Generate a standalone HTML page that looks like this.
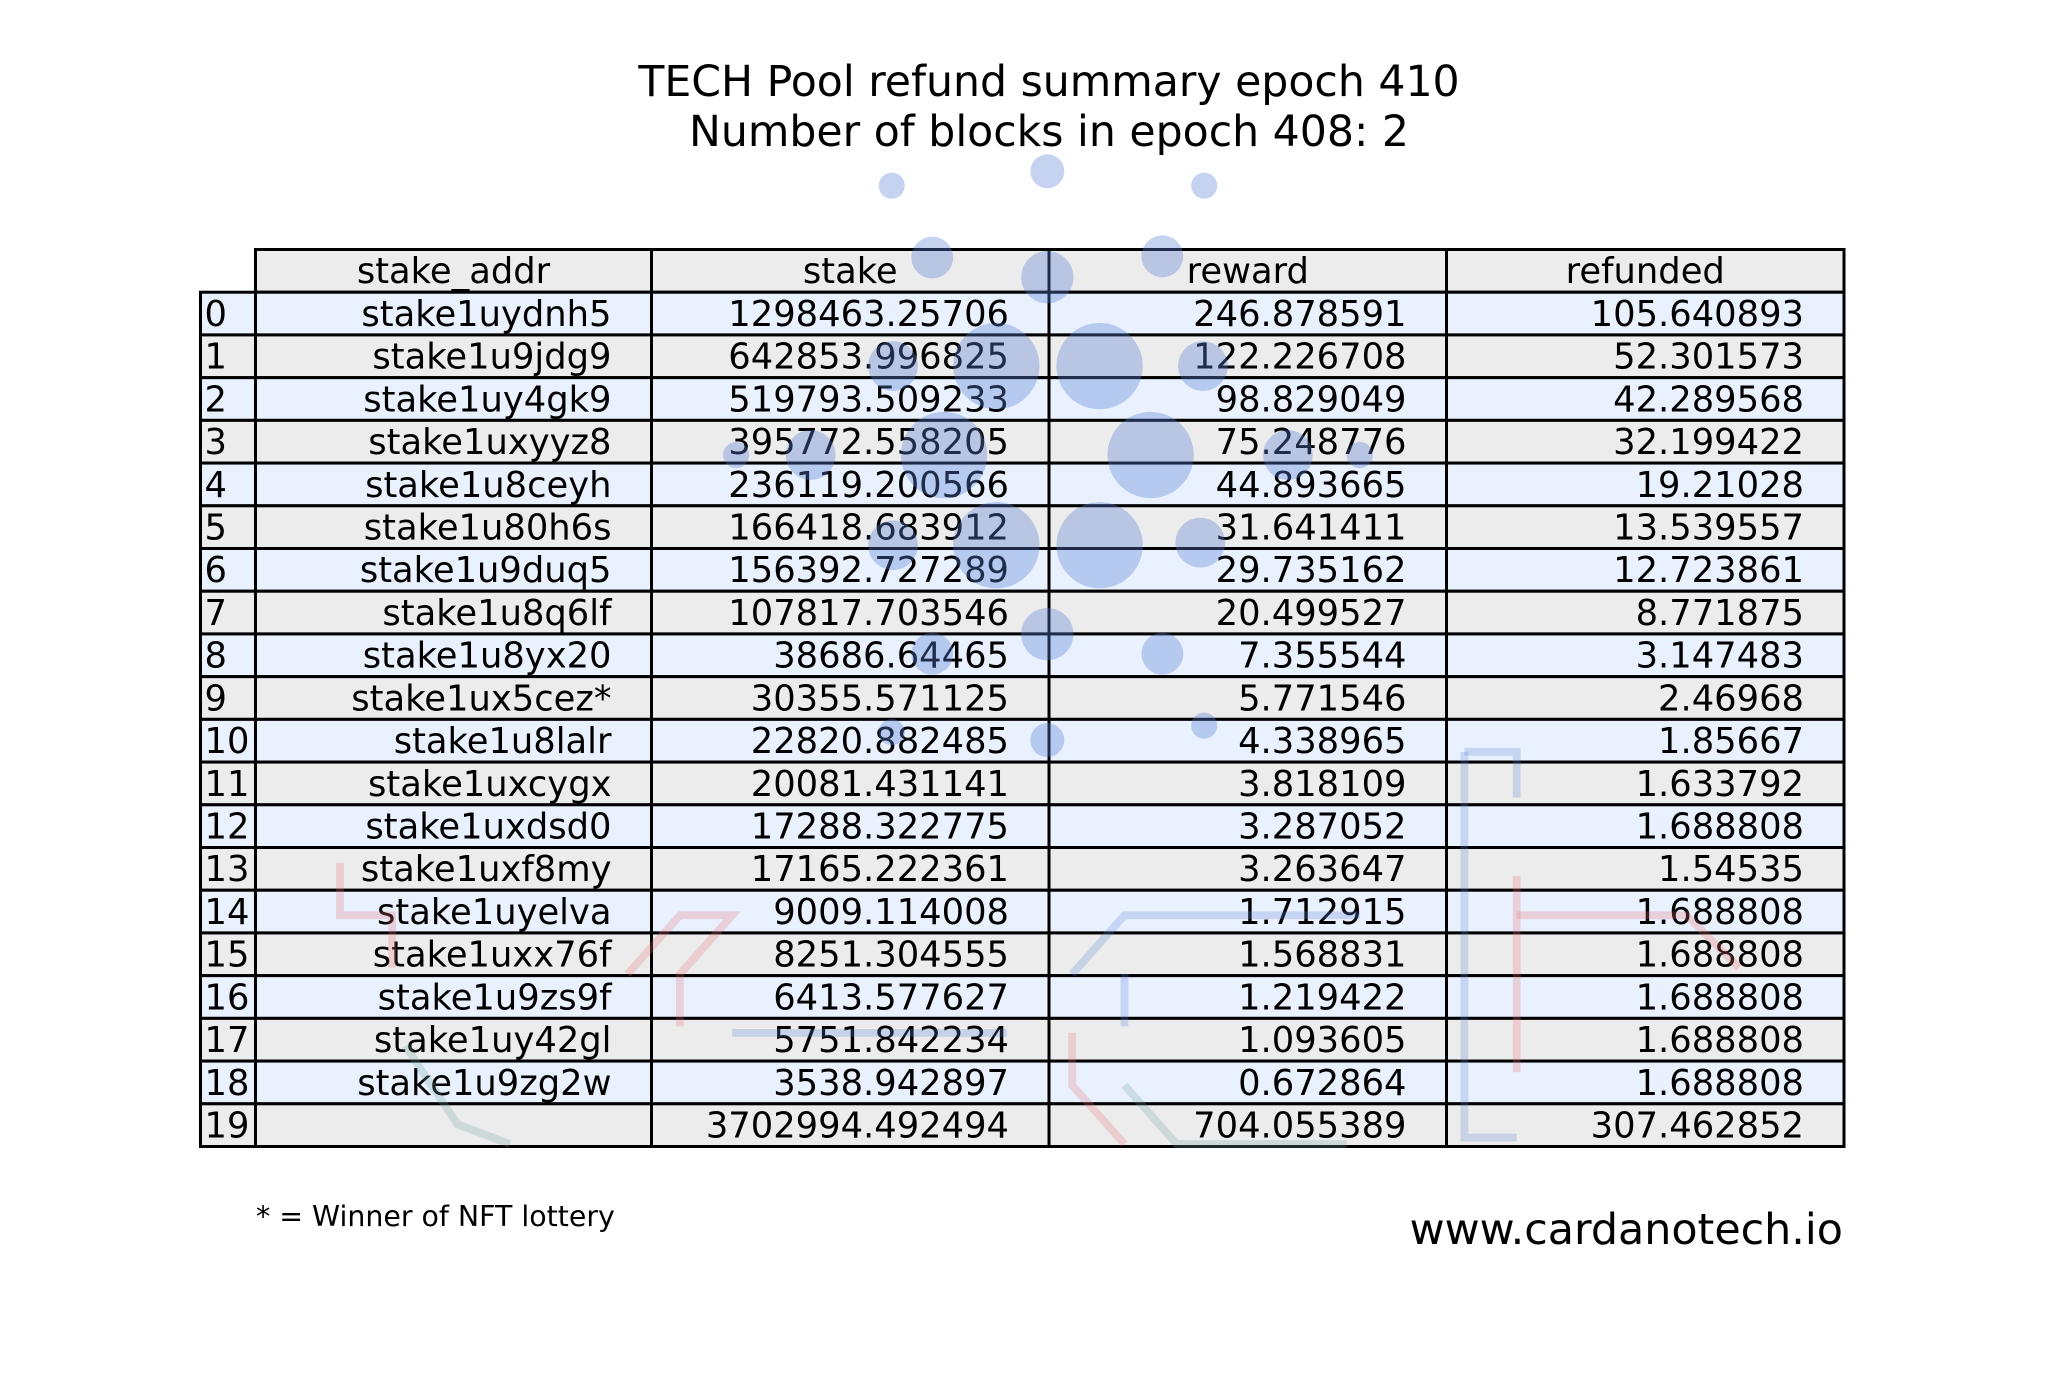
<!DOCTYPE html>
<html><head><meta charset="utf-8"><style>
body{margin:0;background:#fff}
svg{display:block}
text{font-family:"DejaVu Sans","Liberation Sans",sans-serif}
</style></head><body>
<svg id="s" width="2048" height="1382" viewBox="0 0 2048 1382">
<rect width="2048" height="1382" fill="#fff"/>
<text x="1049" y="96" font-size="42.6" text-anchor="middle">TECH Pool refund summary epoch 410</text>
<text x="1049" y="146" font-size="42.6" text-anchor="middle">Number of blocks in epoch 408: 2</text>
<g id="tbl"></g>
<g id="wm" fill="rgb(90,130,215)" fill-opacity="0.35"></g>
<text x="256" y="1226" font-size="28.4">* = Winner of NFT lottery</text>
<text x="1843" y="1244" font-size="42.8" text-anchor="end">www.cardanotech.io</text>
</svg>
<script>
const headers=["stake_addr","stake","reward","refunded"];
const addrs=["stake1uydnh5","stake1u9jdg9","stake1uy4gk9","stake1uxyyz8","stake1u8ceyh","stake1u80h6s","stake1u9duq5","stake1u8q6lf","stake1u8yx20","stake1ux5cez*","stake1u8lalr","stake1uxcygx","stake1uxdsd0","stake1uxf8my","stake1uyelva","stake1uxx76f","stake1u9zs9f","stake1uy42gl","stake1u9zg2w",""];
const stakes=["1298463.25706","642853.996825","519793.509233","395772.558205","236119.200566","166418.683912","156392.727289","107817.703546","38686.64465","30355.571125","22820.882485","20081.431141","17288.322775","17165.222361","9009.114008","8251.304555","6413.577627","5751.842234","3538.942897","3702994.492494"];
const rewards=["246.878591","122.226708","98.829049","75.248776","44.893665","31.641411","29.735162","20.499527","7.355544","5.771546","4.338965","3.818109","3.287052","3.263647","1.712915","1.568831","1.219422","1.093605","0.672864","704.055389"];
const refunds=["105.640893","52.301573","42.289568","32.199422","19.21028","13.539557","12.723861","8.771875","3.147483","2.46968","1.85667","1.633792","1.688808","1.54535","1.688808","1.688808","1.688808","1.688808","1.688808","307.462852"];
const NS="http://www.w3.org/2000/svg";
const cols=[200.5,255.5,651.5,1049,1446.5,1844];
const top0=249.5,rh=(1146.5-249.5)/21;
const g=document.getElementById('tbl');
function mk(tag,attrs,parent){const e=document.createElementNS(NS,tag);for(const k in attrs)e.setAttribute(k,attrs[k]);parent.appendChild(e);return e;}
for(let c=0;c<4;c++){
  const r=mk('rect',{x:cols[c+1],y:top0,width:cols[c+2]-cols[c+1],height:rh,fill:'#ececec',stroke:'#000','stroke-width':3},g);
  
  
  const t=mk('text',{x:(cols[c+1]+cols[c+2])/2,y:top0+rh-9,'font-size':35.3,'text-anchor':'middle'},g);
  t.textContent=headers[c];
  
  
}
for(let i=0;i<addrs.length;i++){
  const y=top0+rh*(i+1);
  const fill=i%2===0?'#e8f1fd':'#ececec';
  const vals=[String(i),addrs[i],stakes[i],rewards[i],refunds[i]];
  for(let c=0;c<5;c++){
    const r=mk('rect',{x:cols[c],y:y,width:cols[c+1]-cols[c],height:rh,fill:fill,stroke:'#000','stroke-width':3},g);
    
    
    const t=mk('text',{y:y+rh-9,'font-size':35.3},g);
    if(c===0){t.setAttribute('x',cols[0]+4);}
    else{t.setAttribute('x',cols[c+1]-40);t.setAttribute('text-anchor','end');}
    t.textContent=vals[c];
    
    
  }
}
const wm=document.getElementById('wm');
const sc=1.3075;
const circ=[[682,142,10],[801,131,13],[921,142,10],[713,197,16],[889,196,16],[801,212,20],[762,280,33],[841,280,33],[920,280,19],[683,280,19],[880,348,33],[722,348,33],[620,348,19],[985,348,19],[563,348,10],[1040,348,10],[762,417,33],[841,417,33],[918,415,19],[683,417,19],[801,485,20],[713,500,16],[889,500,16],[682,560,10],[801,566,13],[921,555,10]];
circ.forEach((p,k)=>{
  const e=mk('circle',{cx:p[0]*sc,cy:p[1]*sc,r:p[2]*sc},wm);
  
  
});
const lines=[["M1120 575 L1160 575 L1160 610","rgb(90,130,215)"],["M1120 575 L1120 870 L1160 870","rgb(90,130,215)"],["M1160 670 L1160 820","rgb(230,110,120)"],["M1160 700 L1290 700 L1330 740","rgb(230,110,120)"],["M260 660 L260 700 L300 700 L300 740","rgb(230,110,120)"],["M480 745 L520 700 L560 700 L520 745 L520 785","rgb(230,110,120)"],["M820 745 L860 700 L1040 700","rgb(90,130,215)"],["M860 745 L860 785","rgb(90,130,215)"],["M560 790 L770 790","rgb(90,130,215)"],["M310 800 L350 860 L390 875","rgb(110,160,160)"],["M820 790 L820 830 L860 875","rgb(230,110,120)"],["M860 830 L900 875 L1030 875","rgb(110,160,160)"]];
lines.forEach(l=>{
  const e=mk('path',{d:l[0],transform:'scale('+sc+')',fill:'none',stroke:l[1],'stroke-opacity':0.25,'stroke-width':6},wm);
  
  
});
</script>
</body></html>
